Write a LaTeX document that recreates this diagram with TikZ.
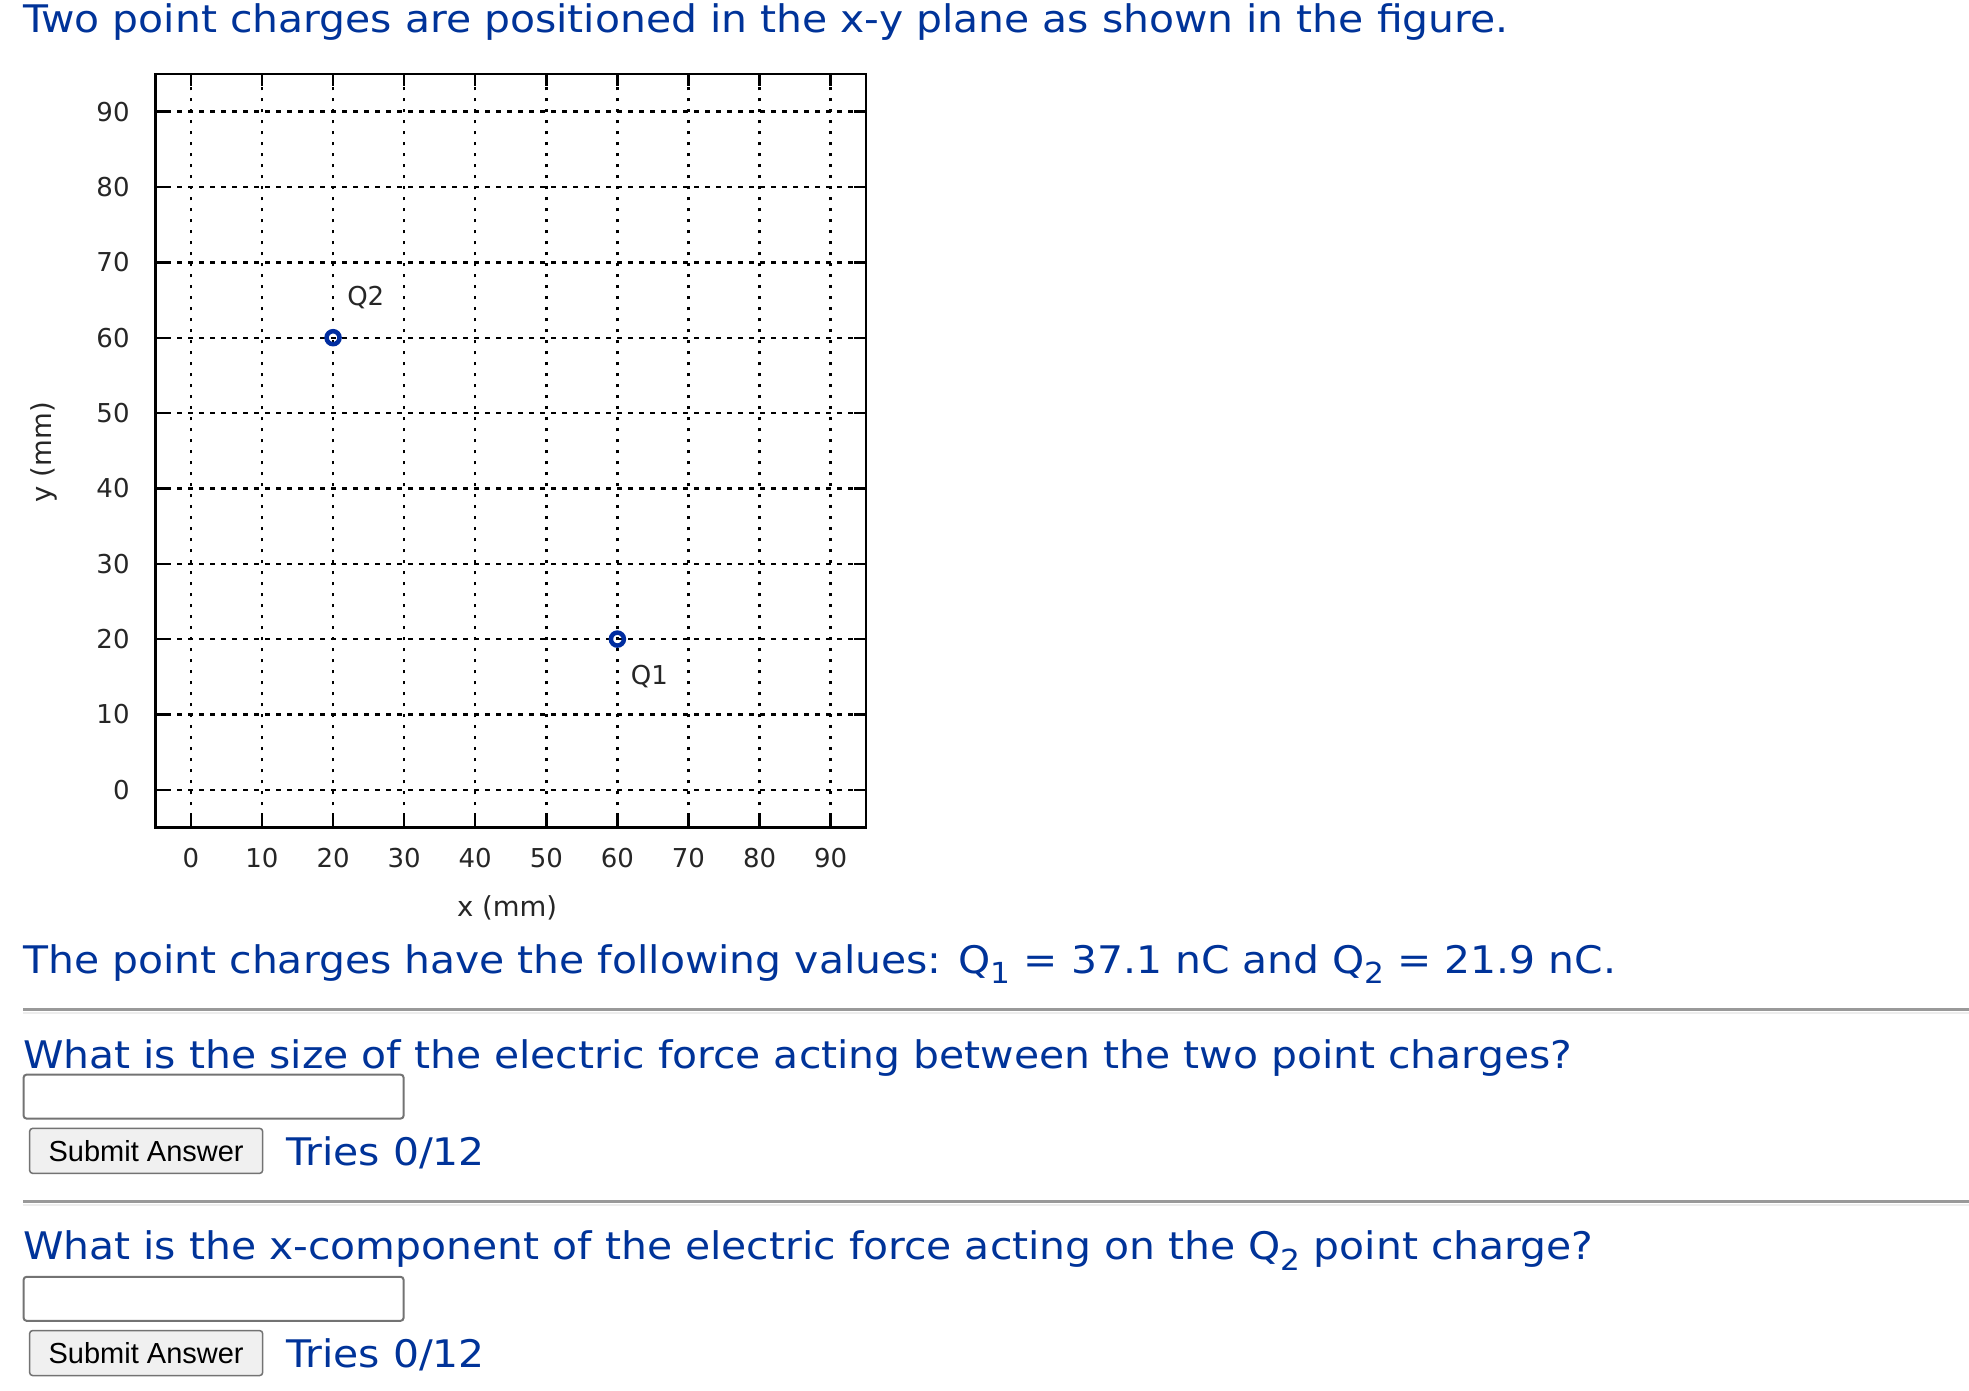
\documentclass[tikz,border=0pt]{standalone}
\usepackage{fontspec}
\setmainfont{DejaVu Sans}
\newfontfamily\btnfont{Liberation Sans}
\usepackage{xcolor}
\usetikzlibrary{positioning,calc}
\definecolor{qblue}{RGB}{0,51,153}
\definecolor{ptblue}{RGB}{0,45,160}
\definecolor{rulegray}{RGB}{153,153,153}
\newcommand{\qsub}[1]{\raisebox{-0.28em}{\fontsize{29}{30}\selectfont #1}}

\tikzset{
  qtext/.style={anchor=base west, inner sep=0pt, xscale=1.076, text=qblue, font=\fontsize{38}{44}\selectfont},
  ticklabel/.style={text=black!85, font=\fontsize{26}{30}\selectfont, inner sep=0pt},
  axislabel/.style={text=black!85, font=\fontsize{27.5}{30}\selectfont, inner sep=0pt},
  hgrid/.style={line width=2.4pt, dash pattern=on 5pt off 6pt},
  vgrid/.style={line width=2.4pt, dash pattern=on 3pt off 8pt},
  charge/.style={circle, draw=ptblue, line width=4.5pt, minimum size=13pt, inner sep=0pt},
  answerbox/.style={draw=black!55, line width=2pt, rounded corners=3pt, minimum width=380pt, minimum height=44pt, anchor=north west},
  submitbtn/.style={draw=black!55, fill=black!6, line width=1.5pt, rounded corners=3pt, minimum width=233pt, minimum height=45pt, anchor=north west, font=\btnfont\fontsize{29}{32}\selectfont},
}

\begin{document}
\begin{tikzpicture}[x=1pt, y=-1pt]
  \useasboundingbox (0,0) rectangle (1969,1391);

  \node[qtext] (title) at (23,33) {Two point charges are positioned in the x-y plane as shown in the figure.};

  % Plot
  \begin{scope}[shift={(190.9,789.8)}, x=7.108pt, y=7.535pt]
    \foreach \v in {0,10,...,90} {
      \draw[vgrid] (\v,-5) -- (\v,95);
      \draw[hgrid] (-5,\v) -- (95,\v);
      \draw[line width=2.4pt] (\v,-5) -- ++(0,12pt);
      \draw[line width=2.4pt] (\v,95) -- ++(0,-12pt);
      \draw[line width=2.4pt] (-5,\v) -- ++(12pt,0);
      \draw[line width=2.4pt] (95,\v) -- ++(-12pt,0);
      \node[ticklabel] (xl\v) at (\v,-9.1) {\v};
      \node[ticklabel, anchor=east] (yl\v) at (-8.6,\v) {\v};
    }
    \draw[line width=2.6pt] (-5,-5) rectangle (95,95);

    \node[axislabel] (xlab) at (44.5,-15.7) {x (mm)};
    \node[axislabel, rotate=90] (ylab) at (-20.7,44.8) {y (mm)};

    % Charges
    \node[charge] (q2) at (20,60) {};
    \node[charge] (q1) at (60,20) {};
    \node[ticklabel] (q2lab) at (24.6,65.3) {Q2};
    \node[ticklabel] (q1lab) at (64.5,15.1) {Q1};
  \end{scope}

  \node[qtext] (vals) at (23,973) {The point charges have the following values: Q\qsub{1} = 37.1 nC and Q\qsub{2} = 21.9 nC.};

  \draw[rulegray, line width=2.5pt] (23,1009.6) -- (1969,1009.6);
  \draw[black!7, line width=2pt] (23,1012.5) -- (1969,1012.5);

  % First question
  \node[qtext] (ask1) at (23,1068) {What is the size of the electric force acting between the two point charges?};
  \node[answerbox] (ans1) at (22.6,1073.6) {};
  \node[submitbtn] (sub1) at (28.9,1127.6) {Submit Answer};
  \node[qtext] (tries1) at (286.3,1165) {Tries 0/12};

  \draw[rulegray, line width=2.5pt] (23,1201.7) -- (1969,1201.7);
  \draw[black!7, line width=2pt] (23,1204.6) -- (1969,1204.6);

  % Second question
  \node[qtext] (ask2) at (23,1259.5) {What is the x-component of the electric force acting on the Q\qsub{2} point charge?};
  \node[answerbox] (ans2) at (22.6,1275.8) {};
  \node[submitbtn] (sub2) at (28.9,1329.8) {Submit Answer};
  \node[qtext] (tries2) at (286.3,1367.5) {Tries 0/12};
\end{tikzpicture}
\end{document}
